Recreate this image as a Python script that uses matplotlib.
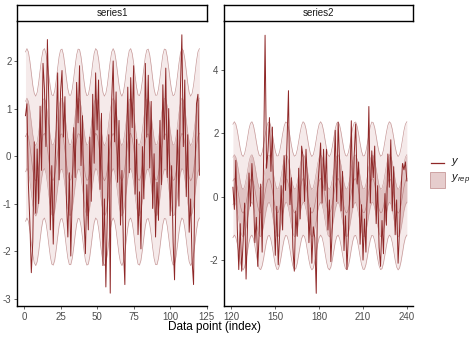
import numpy as np
import matplotlib
matplotlib.use("Agg")
import matplotlib.pyplot as plt
from matplotlib.patches import Rectangle
from matplotlib.lines import Line2D

plt.rcParams["font.family"] = ["Liberation Sans", "DejaVu Sans"]
plt.rcParams["axes.unicode_minus"] = False
plt.rcParams["mathtext.fontset"] = "custom"
plt.rcParams["mathtext.it"] = "Liberation Sans:italic"
plt.rcParams["mathtext.rm"] = "Liberation Sans"

# observed values and predictive quantiles, one entry per data point
idx1 = list(range(1, 121))
idx2 = list(range(121, 241))

y1 = [0.85, 1.10, -0.60, -1.40, -2.45, -1.80, 0.30, -1.20, 0.15, -1.00,
      1.05, -0.30, 1.95, 1.40, 0.20, 2.45, 1.10, -1.55, -0.20, -1.85,
      -0.40, 0.55, 1.75, -0.50, 1.35, 1.80, 0.40, 1.25, -0.90, -1.70,
      -0.35, -2.10, -0.80, 0.60, -0.45, 1.55, 0.70, 1.90, -0.20, 0.85,
      -1.25, -2.05, -0.60, -1.55, 0.40, -0.95, 1.30, -0.15, 1.75, 0.55,
      1.60, -0.70, 0.90, -2.30, -0.90, -2.75, -1.20, 0.45, -2.88, 1.20,
      2.00, 0.30, 1.35, -0.55, 0.75, -1.45, -0.30, -1.90, -2.70, 0.10,
      1.45, -0.35, 1.65, 0.60, 1.90, -0.80, 0.35, -1.65, -0.75, -1.95,
      0.20, -0.90, 1.95, 0.40, 1.70, -0.25, 1.15, -1.10, 0.05, -1.70,
      -0.55, -1.35, 0.75, -0.60, 1.50, 0.35, 1.85, -0.45, 1.00, -1.25,
      -0.20, -1.80, -2.60, -0.70, 0.55, -1.05, 1.40, 2.55, 0.20, 1.60,
      -0.85, 0.45, -1.60, -0.90, -2.20, -2.70, -0.30, 1.10, 1.30, -0.40]

med1 = [0.41, 0.48, 0.41, 0.22, -0.03, -0.29, -0.46, -0.52, -0.44, -0.24,
        0.02, 0.27, 0.44, 0.48, 0.38, 0.17, -0.09, -0.33, -0.49, -0.51,
        -0.41, -0.19, 0.07, 0.31, 0.45, 0.47, 0.35, 0.12, -0.14, -0.37,
        -0.50, -0.50, -0.37, -0.14, 0.12, 0.35, 0.47, 0.46, 0.31, 0.07,
        -0.19, -0.41, -0.51, -0.49, -0.33, -0.09, 0.17, 0.38, 0.48, 0.44,
        0.27, 0.02, -0.24, -0.44, -0.52, -0.46, -0.29, -0.03, 0.22, 0.41,
        0.48, 0.41, 0.22, -0.03, -0.28, -0.46, -0.52, -0.44, -0.24, 0.02,
        0.27, 0.44, 0.48, 0.38, 0.18, -0.09, -0.33, -0.49, -0.51, -0.41,
        -0.19, 0.07, 0.31, 0.45, 0.47, 0.35, 0.13, -0.14, -0.37, -0.50,
        -0.50, -0.37, -0.14, 0.12, 0.35, 0.47, 0.46, 0.31, 0.07, -0.19,
        -0.40, -0.51, -0.49, -0.33, -0.09, 0.17, 0.38, 0.48, 0.44, 0.27,
        0.02, -0.24, -0.44, -0.52, -0.46, -0.29, -0.04, 0.22, 0.41, 0.48]

hi90_1 = [2.19, 2.26, 2.19, 2.00, 1.75, 1.49, 1.32, 1.26, 1.34, 1.54,
          1.80, 2.05, 2.22, 2.26, 2.16, 1.95, 1.69, 1.45, 1.29, 1.27,
          1.37, 1.59, 1.85, 2.09, 2.23, 2.25, 2.13, 1.90, 1.64, 1.41,
          1.28, 1.28, 1.41, 1.64, 1.90, 2.13, 2.25, 2.24, 2.09, 1.85,
          1.59, 1.37, 1.27, 1.29, 1.45, 1.69, 1.95, 2.16, 2.26, 2.22,
          2.05, 1.80, 1.54, 1.34, 1.26, 1.32, 1.49, 1.75, 2.00, 2.19,
          2.26, 2.19, 2.00, 1.75, 1.50, 1.32, 1.26, 1.34, 1.54, 1.80,
          2.05, 2.22, 2.26, 2.16, 1.96, 1.69, 1.45, 1.29, 1.27, 1.37,
          1.59, 1.85, 2.09, 2.23, 2.25, 2.13, 1.91, 1.64, 1.41, 1.28,
          1.28, 1.41, 1.64, 1.90, 2.13, 2.25, 2.24, 2.09, 1.85, 1.59,
          1.38, 1.27, 1.29, 1.45, 1.69, 1.95, 2.16, 2.26, 2.22, 2.05,
          1.80, 1.54, 1.34, 1.26, 1.32, 1.49, 1.74, 2.00, 2.19, 2.26]

hi50_1 = [1.15, 1.22, 1.15, 0.96, 0.71, 0.45, 0.28, 0.22, 0.30, 0.50,
          0.76, 1.01, 1.18, 1.22, 1.12, 0.91, 0.65, 0.41, 0.25, 0.23,
          0.33, 0.55, 0.81, 1.05, 1.19, 1.21, 1.09, 0.86, 0.60, 0.37,
          0.24, 0.24, 0.37, 0.60, 0.86, 1.09, 1.21, 1.20, 1.05, 0.81,
          0.55, 0.33, 0.23, 0.25, 0.41, 0.65, 0.91, 1.12, 1.22, 1.18,
          1.01, 0.76, 0.50, 0.30, 0.22, 0.28, 0.45, 0.71, 0.96, 1.15,
          1.22, 1.15, 0.96, 0.71, 0.46, 0.28, 0.22, 0.30, 0.50, 0.76,
          1.01, 1.18, 1.22, 1.12, 0.92, 0.65, 0.41, 0.25, 0.23, 0.33,
          0.55, 0.81, 1.05, 1.19, 1.21, 1.09, 0.87, 0.60, 0.37, 0.24,
          0.24, 0.37, 0.60, 0.86, 1.09, 1.21, 1.20, 1.05, 0.81, 0.55,
          0.34, 0.23, 0.25, 0.41, 0.65, 0.91, 1.12, 1.22, 1.18, 1.01,
          0.76, 0.50, 0.30, 0.22, 0.28, 0.45, 0.70, 0.96, 1.15, 1.22]

lo50_1 = [-0.33, -0.26, -0.33, -0.52, -0.77, -1.03, -1.20, -1.26, -1.18, -0.98,
          -0.72, -0.47, -0.30, -0.26, -0.36, -0.57, -0.83, -1.07, -1.23, -1.25,
          -1.15, -0.93, -0.67, -0.43, -0.29, -0.27, -0.39, -0.62, -0.88, -1.11,
          -1.24, -1.24, -1.11, -0.88, -0.62, -0.39, -0.27, -0.28, -0.43, -0.67,
          -0.93, -1.15, -1.25, -1.23, -1.07, -0.83, -0.57, -0.36, -0.26, -0.30,
          -0.47, -0.72, -0.98, -1.18, -1.26, -1.20, -1.03, -0.77, -0.52, -0.33,
          -0.26, -0.33, -0.52, -0.77, -1.02, -1.20, -1.26, -1.18, -0.98, -0.72,
          -0.47, -0.30, -0.26, -0.36, -0.56, -0.83, -1.07, -1.23, -1.25, -1.15,
          -0.93, -0.67, -0.43, -0.29, -0.27, -0.39, -0.61, -0.88, -1.11, -1.24,
          -1.24, -1.11, -0.88, -0.62, -0.39, -0.27, -0.28, -0.43, -0.67, -0.93,
          -1.14, -1.25, -1.23, -1.07, -0.83, -0.57, -0.36, -0.26, -0.30, -0.47,
          -0.72, -0.98, -1.18, -1.26, -1.20, -1.03, -0.78, -0.52, -0.33, -0.26]

lo90_1 = [-1.37, -1.30, -1.37, -1.56, -1.81, -2.07, -2.24, -2.30, -2.22, -2.02,
          -1.76, -1.51, -1.34, -1.30, -1.40, -1.61, -1.87, -2.11, -2.27, -2.29,
          -2.19, -1.97, -1.71, -1.47, -1.33, -1.31, -1.43, -1.66, -1.92, -2.15,
          -2.28, -2.28, -2.15, -1.92, -1.66, -1.43, -1.31, -1.32, -1.47, -1.71,
          -1.97, -2.19, -2.29, -2.27, -2.11, -1.87, -1.61, -1.40, -1.30, -1.34,
          -1.51, -1.76, -2.02, -2.22, -2.30, -2.24, -2.07, -1.81, -1.56, -1.37,
          -1.30, -1.37, -1.56, -1.81, -2.06, -2.24, -2.30, -2.22, -2.02, -1.76,
          -1.51, -1.34, -1.30, -1.40, -1.60, -1.87, -2.11, -2.27, -2.29, -2.19,
          -1.97, -1.71, -1.47, -1.33, -1.31, -1.43, -1.65, -1.92, -2.15, -2.28,
          -2.28, -2.15, -1.92, -1.66, -1.43, -1.31, -1.32, -1.47, -1.71, -1.97,
          -2.18, -2.29, -2.27, -2.11, -1.87, -1.61, -1.40, -1.30, -1.34, -1.51,
          -1.76, -2.02, -2.22, -2.30, -2.24, -2.07, -1.82, -1.56, -1.37, -1.30]

y2 = [0.30, -0.40, 1.15, -1.00, -2.30, -0.85, -2.35, -1.40, -0.20, -2.60,
      -0.90, 0.75, -0.30, 1.05, 0.15, -1.45, -0.65, -2.20, -1.10, 0.40,
      -1.75, 1.20, 5.10, 0.90, 1.45, 2.50, 0.80, 2.20, -0.50, -1.85,
      -0.30, -2.15, -1.15, 0.35, -1.05, 1.30, 0.20, 1.70, 3.35, -0.25,
      0.60, -1.60, -2.35, -0.45, -1.25, 0.90, -0.70, 1.60, 1.25, -0.15,
      1.50, 0.45, -1.45, -0.35, -2.10, -0.95, -1.30, -3.05, 0.25, 0.95,
      1.70, -0.20, 1.50, 0.20, 1.50, -1.05, -0.10, -2.05, -0.95, 0.55,
      2.10, -0.15, 2.35, 1.10, -0.45, 0.80, -1.70, -0.60, -2.30, -1.20,
      0.30, 2.40, -0.35, 1.35, 2.30, 0.40, 1.10, -1.50, -0.25, -2.00,
      -0.70, -1.75, 0.50, 2.85, -0.20, 1.45, 0.60, 1.60, -0.85, 0.35,
      -1.60, -2.20, -0.75, -1.80, 0.10, -0.90, 1.35, 0.30, 1.80, -0.45,
      0.95, -1.20, -0.10, -2.10, -1.05, 0.20, 1.05, 0.85, 1.10, 0.50]

med2 = [0.50, 0.58, 0.50, 0.30, 0.02, -0.26, -0.46, -0.52, -0.43, -0.21,
        0.07, 0.35, 0.53, 0.58, 0.47, 0.24, -0.04, -0.31, -0.48, -0.51,
        -0.39, -0.16, 0.13, 0.39, 0.55, 0.57, 0.43, 0.19, -0.10, -0.35,
        -0.50, -0.50, -0.35, -0.10, 0.19, 0.43, 0.57, 0.55, 0.39, 0.13,
        -0.16, -0.39, -0.51, -0.48, -0.31, -0.04, 0.24, 0.47, 0.58, 0.53,
        0.35, 0.07, -0.21, -0.43, -0.52, -0.46, -0.26, 0.01, 0.30, 0.50,
        0.58, 0.50, 0.30, 0.02, -0.26, -0.46, -0.52, -0.43, -0.21, 0.07,
        0.35, 0.53, 0.58, 0.47, 0.24, -0.04, -0.31, -0.48, -0.51, -0.39,
        -0.16, 0.13, 0.39, 0.55, 0.57, 0.43, 0.19, -0.10, -0.35, -0.50,
        -0.50, -0.35, -0.10, 0.19, 0.43, 0.57, 0.55, 0.39, 0.13, -0.16,
        -0.39, -0.51, -0.48, -0.31, -0.04, 0.24, 0.47, 0.58, 0.53, 0.35,
        0.08, -0.21, -0.43, -0.52, -0.46, -0.26, 0.01, 0.30, 0.50, 0.58]

hi90_2 = [2.29, 2.37, 2.29, 2.09, 1.81, 1.53, 1.33, 1.27, 1.36, 1.58,
          1.86, 2.14, 2.32, 2.37, 2.26, 2.03, 1.75, 1.48, 1.31, 1.28,
          1.40, 1.63, 1.92, 2.18, 2.34, 2.36, 2.22, 1.98, 1.69, 1.44,
          1.29, 1.29, 1.44, 1.69, 1.98, 2.22, 2.36, 2.34, 2.18, 1.92,
          1.63, 1.40, 1.28, 1.31, 1.48, 1.75, 2.03, 2.26, 2.37, 2.32,
          2.14, 1.86, 1.58, 1.36, 1.27, 1.33, 1.53, 1.80, 2.09, 2.29,
          2.37, 2.29, 2.09, 1.81, 1.53, 1.33, 1.27, 1.36, 1.58, 1.86,
          2.14, 2.32, 2.37, 2.26, 2.03, 1.75, 1.48, 1.31, 1.28, 1.40,
          1.63, 1.92, 2.18, 2.34, 2.36, 2.22, 1.98, 1.69, 1.44, 1.29,
          1.29, 1.44, 1.69, 1.98, 2.22, 2.36, 2.34, 2.18, 1.92, 1.63,
          1.40, 1.28, 1.31, 1.48, 1.75, 2.03, 2.26, 2.37, 2.32, 2.14,
          1.87, 1.58, 1.36, 1.27, 1.33, 1.53, 1.80, 2.09, 2.29, 2.37]

hi50_2 = [1.25, 1.33, 1.25, 1.05, 0.77, 0.49, 0.29, 0.23, 0.32, 0.54,
          0.82, 1.10, 1.28, 1.33, 1.22, 0.99, 0.71, 0.44, 0.27, 0.24,
          0.36, 0.59, 0.88, 1.14, 1.30, 1.32, 1.18, 0.94, 0.65, 0.40,
          0.25, 0.25, 0.40, 0.65, 0.94, 1.18, 1.32, 1.30, 1.14, 0.88,
          0.59, 0.36, 0.24, 0.27, 0.44, 0.71, 0.99, 1.22, 1.33, 1.28,
          1.10, 0.82, 0.54, 0.32, 0.23, 0.29, 0.49, 0.76, 1.05, 1.25,
          1.33, 1.25, 1.05, 0.77, 0.49, 0.29, 0.23, 0.32, 0.54, 0.82,
          1.10, 1.28, 1.33, 1.22, 0.99, 0.71, 0.44, 0.27, 0.24, 0.36,
          0.59, 0.88, 1.14, 1.30, 1.32, 1.18, 0.94, 0.65, 0.40, 0.25,
          0.25, 0.40, 0.65, 0.94, 1.18, 1.32, 1.30, 1.14, 0.88, 0.59,
          0.36, 0.24, 0.27, 0.44, 0.71, 0.99, 1.22, 1.33, 1.28, 1.10,
          0.83, 0.54, 0.32, 0.23, 0.29, 0.49, 0.76, 1.05, 1.25, 1.33]

lo50_2 = [-0.25, -0.17, -0.25, -0.45, -0.73, -1.01, -1.21, -1.27, -1.18, -0.96,
          -0.68, -0.40, -0.22, -0.17, -0.28, -0.51, -0.79, -1.06, -1.23, -1.26,
          -1.14, -0.91, -0.62, -0.36, -0.20, -0.18, -0.32, -0.56, -0.85, -1.10,
          -1.25, -1.25, -1.10, -0.85, -0.56, -0.32, -0.18, -0.20, -0.36, -0.62,
          -0.91, -1.14, -1.26, -1.23, -1.06, -0.79, -0.51, -0.28, -0.17, -0.22,
          -0.40, -0.68, -0.96, -1.18, -1.27, -1.21, -1.01, -0.74, -0.45, -0.25,
          -0.17, -0.25, -0.45, -0.73, -1.01, -1.21, -1.27, -1.18, -0.96, -0.68,
          -0.40, -0.22, -0.17, -0.28, -0.51, -0.79, -1.06, -1.23, -1.26, -1.14,
          -0.91, -0.62, -0.36, -0.20, -0.18, -0.32, -0.56, -0.85, -1.10, -1.25,
          -1.25, -1.10, -0.85, -0.56, -0.32, -0.18, -0.20, -0.36, -0.62, -0.91,
          -1.14, -1.26, -1.23, -1.06, -0.79, -0.51, -0.28, -0.17, -0.22, -0.40,
          -0.67, -0.96, -1.18, -1.27, -1.21, -1.01, -0.74, -0.45, -0.25, -0.17]

lo90_2 = [-1.29, -1.21, -1.29, -1.49, -1.77, -2.05, -2.25, -2.31, -2.22, -2.00,
          -1.72, -1.44, -1.26, -1.21, -1.32, -1.55, -1.83, -2.10, -2.27, -2.30,
          -2.18, -1.95, -1.66, -1.40, -1.24, -1.22, -1.36, -1.60, -1.89, -2.14,
          -2.29, -2.29, -2.14, -1.89, -1.60, -1.36, -1.22, -1.24, -1.40, -1.66,
          -1.95, -2.18, -2.30, -2.27, -2.10, -1.83, -1.55, -1.32, -1.21, -1.26,
          -1.44, -1.72, -2.00, -2.22, -2.31, -2.25, -2.05, -1.78, -1.49, -1.29,
          -1.21, -1.29, -1.49, -1.77, -2.05, -2.25, -2.31, -2.22, -2.00, -1.72,
          -1.44, -1.26, -1.21, -1.32, -1.55, -1.83, -2.10, -2.27, -2.30, -2.18,
          -1.95, -1.66, -1.40, -1.24, -1.22, -1.36, -1.60, -1.89, -2.14, -2.29,
          -2.29, -2.14, -1.89, -1.60, -1.36, -1.22, -1.24, -1.40, -1.66, -1.95,
          -2.18, -2.30, -2.27, -2.10, -1.83, -1.55, -1.32, -1.21, -1.26, -1.44,
          -1.71, -2.00, -2.22, -2.31, -2.25, -2.05, -1.78, -1.49, -1.29, -1.21]

panel_names = ["series1", "series2"]
xticks = [[0, 25, 50, 75, 100, 125], [120, 150, 180, 210, 240]]
yticks = [[-3, -2, -1, 0, 1, 2], [-2, 0, 2, 4]]

# bayesplot-style red scheme
c_y = "#8F2727"
c_edge = "#C79999"
c_mid = "#BE8787"
c_outer = "#F5EAEA"
c_inner = "#E0C3C3"
tick_col = "#4D4D4D"

W, H = 474, 338
fig = plt.figure(figsize=(W / 100, H / 100), dpi=100)


def px_box(x0, y0, x1, y1):
    return [x0 / W, 1 - y1 / H, (x1 - x0) / W, (y1 - y0) / H]


def panel(box, strip_box, name, x, y, med, lo50, hi50, lo90, hi90,
          xlim, ylim, xt, yt):
    ax = fig.add_axes(px_box(*box))
    ax.fill_between(x, lo90, hi90, color=c_outer, lw=0)
    ax.plot(x, hi90, color=c_edge, lw=0.5)
    ax.plot(x, lo90, color=c_edge, lw=0.5)
    ax.fill_between(x, lo50, hi50, color=c_inner, lw=0)
    ax.plot(x, hi50, color=c_edge, lw=0.4)
    ax.plot(x, lo50, color=c_edge, lw=0.4)
    ax.plot(x, med, color=c_mid, lw=0.5)
    ax.plot(x, y, color=c_y, lw=0.7)
    ax.set_xlim(*xlim)
    ax.set_ylim(*ylim)
    ax.set_xticks(xt)
    ax.set_yticks(yt)
    for s in ["top", "right"]:
        ax.spines[s].set_visible(False)
    for s in ["left", "bottom"]:
        ax.spines[s].set_linewidth(1.0)
        ax.spines[s].set_color("black")
    ax.tick_params(length=2.5, width=0.6, color=tick_col, labelcolor=tick_col,
                   labelsize=7, pad=1.5)

    sx = fig.add_axes(px_box(*strip_box))
    sx.set_xticks([])
    sx.set_yticks([])
    for s in sx.spines.values():
        s.set_linewidth(1.0)
        s.set_color("black")
    sx.text(0.5, 0.5, name, ha="center", va="center", fontsize=7,
            color="#1A1A1A", transform=sx.transAxes)
    return ax


panel((17, 21, 207, 306), (17, 5, 207, 21), panel_names[0],
      idx1, y1, med1, lo50_1, hi50_1, lo90_1, hi90_1,
      (-4.8, 125.2), (-3.15, 2.84), xticks[0], yticks[0])
panel((224, 21, 413, 306), (224, 5, 413, 21), panel_names[1],
      idx2, y2, med2, lo50_2, hi50_2, lo90_2, hi90_2,
      (114.9, 244.2), (-3.45, 5.55), xticks[1], yticks[1])

fig.text(215 / W, 1 - 327 / H, "Data point (index)", ha="center", va="center",
         fontsize=8.5, color="black")

# legend
lg = fig.add_axes([0, 0, 1, 1], facecolor="none")
lg.set_axis_off()
lg.set_xlim(0, W)
lg.set_ylim(H, 0)
lg.add_line(Line2D([431, 444], [163, 163], color=c_y, lw=0.9))
lg.add_patch(Rectangle((430, 172), 15, 16, facecolor="#E6CDCD",
                       edgecolor=c_edge, lw=0.6))
lg.text(451, 162, r"$y$", fontsize=8, va="center", ha="left", color="#1A1A1A")
lg.text(451, 180, r"$y_{rep}$", fontsize=8, va="center", ha="left", color="#1A1A1A")

fig.savefig("out.png", dpi=100)
